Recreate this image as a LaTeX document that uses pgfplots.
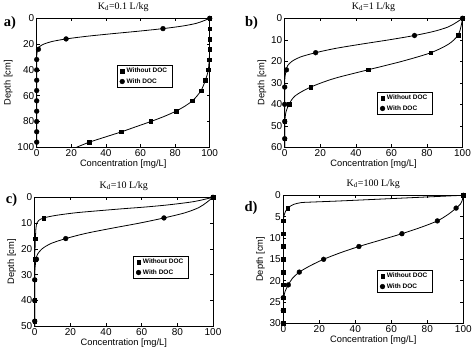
\documentclass[border=0pt]{standalone}
\usepackage{fontspec}
\setmainfont{Liberation Sans}
\newfontfamily\timesfont{Liberation Serif}
\usepackage{pgfplots}
\pgfplotsset{compat=1.18}
\pgfplotsset{
  panel/.style={
    scale only axis, y dir=reverse, xmin=0, xmax=100,
    xtick={0,20,...,100},
    tick align=inside,
    major tick length=3pt,
    axis line style={line width=0.6pt},
    every tick/.style={line width=0.5pt, black},
    /pgf/number format/assume math mode=true,
    tick label style={font=\fontsize{10}{11}\selectfont},
    label style={font=\fontsize{9.3}{10}\selectfont},
    xticklabel style={yshift=1pt},
    yticklabel style={xshift=1pt},
    xlabel={Concentration [mg/L]},
    ylabel={Depth [cm]},
    xlabel style={yshift=4pt},
    ylabel style={yshift=-2pt},
    every axis title/.style={font=\timesfont\fontsize{10}{12}\selectfont, at={(0.5,1)}, anchor=base, yshift=9pt},
    legend style={font=\fontsize{6.5}{7}\selectfont\bfseries, draw=black, line width=0.4pt,
      inner xsep=3pt, inner ysep=1pt, row sep=0pt, anchor=north west},
    legend cell align=left,
  },
  curve/.style={black, line width=0.8pt, smooth, no marks, forget plot},
  sq/.style={black, only marks, mark=square*, mark size=1.8pt},
  ci/.style={black, only marks, mark=*, mark size=2.4pt},
}
\begin{document}
\begin{tikzpicture}
\useasboundingbox (0pt,0pt) rectangle (474pt,355pt);
% ---------------- a ----------------
\begin{axis}[panel, at={(36.7pt,207.7pt)}, anchor=south west, width=173pt, height=129pt,
  ymin=0, ymax=100, ytick={0,20,...,100},
  title={K\textsubscript{d}=0.1 L/kg},
  legend style={at={(0.462,0.638)}}]
\addplot[curve] coordinates {(100,0)(100,24)(99.7,32)(99.5,36)(99.2,40)(98.5,44)(97.5,48)(96.4,52)(95,56)(92.8,60)(90,64)(85.8,68)(80.5,72)(73.8,76)(66,80)(57.5,84)(49,88)(39.7,92)(30.5,96)(23,100)};
\addplot[curve] coordinates {(100,0)(96.4,2)(92,4)(84.3,6)(73,8)(58.8,10)(43.2,12)(28.6,14)(17,16)(8.8,18)(4.1,20)(1.65,22)(0.6,24)(0.1,28)(0,32)(0,100)};
\addplot[sq] coordinates {(100,0)(100,8)(100,16)(100,24)(99.7,32)(99.2,40)(97.5,48)(95,56)(90,64)(80.5,72)(66,80)(49,88)(30.5,96)};
\addplot[ci] coordinates {(100,0)(73,8)(17,16)(1,24)(0,32)(0,40)(0,48)(0,56)(0,64)(0,72)(0,80)(0,88)(0,96)};
\legend{Without DOC, With DOC}
\end{axis}
% ---------------- b ----------------
\begin{axis}[panel, at={(284.7pt,207.7pt)}, anchor=south west, width=177.8pt, height=129pt,
  ymin=0, ymax=60, ytick={0,10,...,60},
  title={K\textsubscript{d}=1 L/kg},
  legend style={at={(0.519,0.429)}}]
\addplot[curve] coordinates {(100,0)(99.1,4)(97.4,8)(92.2,12)(82.2,16)(66,20)(46.7,24)(27.8,28)(14.6,32)(6,36)(2.4,40)(0.6,44)(0.1,48)(0,52)(0,60)};
\addplot[curve] coordinates {(100,0)(96.4,2)(92,4)(84.3,6)(73,8)(58.8,10)(43.2,12)(28.6,14)(17.4,16)(8.8,18)(4.1,20)(1.65,22)(0.8,24)(0.1,28)(0,32)(0,60)};
\addplot[sq] coordinates {(100,0)(97.6,8)(82.2,16)(46.9,24)(14.6,32)(2.4,40)(0,48)(0,56)};
\addplot[ci] coordinates {(100,0)(73,8)(17.4,16)(1,24)(0,32)(0,40)(0,48)(0,56)};
\legend{Without DOC, With DOC}
\end{axis}
% ---------------- c ----------------
\begin{axis}[panel, at={(34.7pt,28.7pt)}, anchor=south west, width=178.3pt, height=129pt,
  ymin=0, ymax=50, ytick={0,10,...,50},
  title={K\textsubscript{d}=10 L/kg},
  legend style={at={(0.551,0.545)}}]
\addplot[curve] coordinates {(100,0)(92,1.3)(86,2)(74,3)(61.5,3.8)(50,4.4)(36,5.2)(23,6)(12,7)(5,8)(2.2,9)(1.2,10)(0.7,12)(0.4,16)(0.2,20)(0,24)(0,50)};
\addplot[curve] coordinates {(100,0)(96.4,2)(92,4)(84.3,6)(72.5,8)(58.8,10)(43.2,12)(28.6,14)(17.4,16)(8.8,18)(4.1,20)(1.65,22)(0.8,24)(0.1,28)(0,32)(0,50)};
\addplot[sq] coordinates {(100,0)(5,8)(0.4,16)(0.2,24)(0,32)(0,40)(0,48)};
\addplot[ci] coordinates {(100,0)(72.5,8)(17.4,16)(1,24)(0,32)(0,40)(0,48)};
\legend{Without DOC, With DOC}
\end{axis}
% ---------------- d ----------------
\begin{axis}[panel, at={(283.3pt,31.7pt)}, anchor=south west, width=180pt, height=128pt,
  ymin=0, ymax=30, ytick={0,5,...,30},
  title={K\textsubscript{d}=100 L/kg},
  legend style={at={(0.52,0.416)}}]
\addplot[curve] coordinates {(100,0)(75.7,0.47)(51.5,0.94)(30,1.35)(15,1.6)(9.8,1.72)(6,2.1)(3.7,2.6)(2.4,3)(1.2,3.8)(0.5,4.6)(0.1,5.5)(0,6)(0,30)};
\addplot[curve] coordinates {(100,0)(99.5,1)(98.5,2)(96,3)(91.5,4.5)(85.6,6)(76.5,7.5)(65.9,9)(54,10.5)(42,12)(31.5,13.5)(22.4,15)(15,16.5)(8.9,18)(5,19.5)(2.8,21)(1,22.5)(0.3,24)(0,26)(0,30)};
\addplot[sq] coordinates {(100,0)(2.4,3)(0,6)(0,9)(0,12)(0,15)(0,18)(0,21)(0,24)(0,27)(0,30)};
\addplot[ci] coordinates {(100,0)(96,3)(85.6,6)(65.9,9)(42,12)(22.4,15)(8.9,18)(2.8,21)(0,24)(0,27)(0,30)};
\legend{Without DOC, With DOC}
\end{axis}
% panel labels
\node[font=\timesfont\bfseries\fontsize{14.5}{15}\selectfont] at (10pt,332pt) {a)};
\node[font=\timesfont\bfseries\fontsize{14.5}{15}\selectfont] at (251.5pt,332pt) {b)};
\node[font=\timesfont\bfseries\fontsize{14.5}{15}\selectfont] at (11.5pt,155pt) {c)};
\node[font=\timesfont\bfseries\fontsize{14.5}{15}\selectfont] at (251pt,147pt) {d)};
\end{tikzpicture}
\end{document}
